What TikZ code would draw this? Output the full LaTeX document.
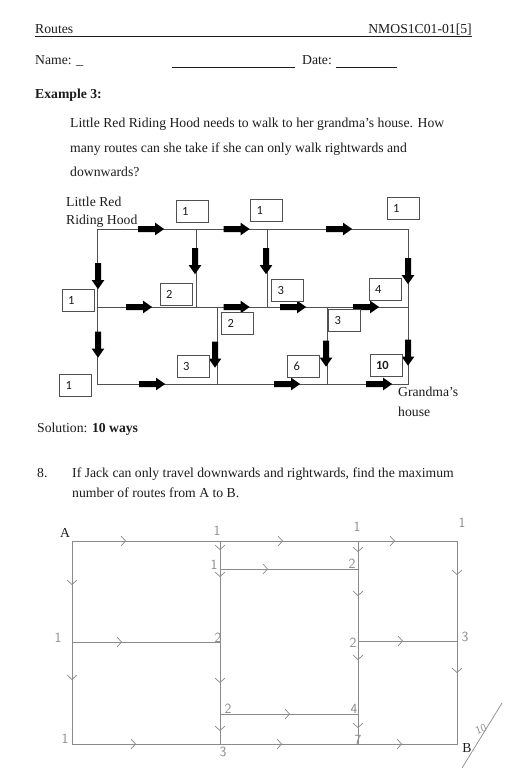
\documentclass[tikz,border=0pt]{standalone}
\usepackage{fontspec}
\setmainfont{Liberation Serif}
\newfontfamily\countfont{Carlito}
\usepackage{xcolor}
\usepackage{tikz}
\usetikzlibrary{arrows.meta,shapes.arrows}
\definecolor{PrintInk}{HTML}{1C1C1C}
\definecolor{RoadGrey}{HTML}{505050}
\definecolor{PencilGrey}{HTML}{8A8A8A}

\begin{document}
\begin{tikzpicture}[x=1pt,y=-1pt]
  \path[use as bounding box] (0,0) rectangle (517,768);
  \tikzset{
    rtText/.style={
      anchor=base west, inner sep=0pt, text=PrintInk,
      font=\fontsize{13.7}{16}\selectfont
    },
    rtHead/.style={
      rtText, font=\fontsize{13.7}{16}\selectfont\bfseries
    },
    rtPara/.style={
      anchor=north west, inner sep=0pt, text=PrintInk, align=left,
      font=\fontsize{13.7}{24.5}\selectfont
    },
    rtRule/.style={draw=PrintInk, line width=.6pt},
    rtRoad/.style={draw=RoadGrey, line width=.7pt},
    rtCount/.style={
      draw=RoadGrey, fill=white, line width=.6pt,
      minimum width=32pt, minimum height=22pt, text width=20pt,
      inner xsep=6pt, inner ysep=0pt, align=left,
      font=\countfont\fontsize{12.5}{12.5}\selectfont, text=PrintInk
    },
    rtGo/.style={
      single arrow, fill=black, draw=none, inner xsep=0pt, inner ysep=2.8pt,
      minimum height=26pt, single arrow head extend=3.4pt,
      single arrow tip angle=70
    },
    rtGoDown/.style={rtGo, rotate=-90},
    hwRoad/.style={draw=PencilGrey, line width=.8pt},
    hwTick/.style={
      -{Straight Barb[length=4.5pt,width=10pt]}, draw=PencilGrey,
      line width=.7pt
    },
    hwNum/.style={
      inner sep=0pt, text=PencilGrey,
      font=\sffamily\fontsize{14}{14}\selectfont
    }
  }

  % header
  \node[rtText] (title) at (35,34) {Routes};
  \node[rtText, anchor=base east] (code) at (472,34) {NMOS1C01-01[5]};
  \draw[rtRule] ([yshift=-2.5pt]title.base west) -- ([yshift=-2.5pt]code.base east);
  \node[rtText] (name) at (35,65) {Name: \_};
  \node[rtText] (date) at (302,65) {Date:};
  \draw[rtRule] (172,67) -- (295,67);
  \draw[rtRule] (336,67) -- (397,67);

  \node[rtHead] (example) at (35,99) {Example 3:};
  \node[rtPara] (story) at (70,118)
    {Little Red Riding Hood needs to walk to her grandma’s house. How\\
     many routes can she take if she can only walk rightwards and\\
     downwards?};

  % example grid
  \coordinate (hood) at (97,229);
  \coordinate (t2) at (196,229);
  \coordinate (t3) at (267,229);
  \coordinate (t4) at (408,229);
  \coordinate (m1) at (97,307);
  \coordinate (m2) at (196,307);
  \coordinate (m3) at (217,307);
  \coordinate (m4) at (267,307);
  \coordinate (m5) at (327,307);
  \coordinate (m6) at (408,307);
  \coordinate (b1) at (97,384);
  \coordinate (b2) at (217,384);
  \coordinate (b3) at (327,384);
  \coordinate (grandma) at (408,384);

  \draw[rtRoad] (hood) -- (t4) -- (grandma) -- (b1) -- cycle;
  \draw[rtRoad] (m1) -- (m6);
  \draw[rtRoad] (t2) -- (m2);
  \draw[rtRoad] (t3) -- (m4);
  \draw[rtRoad] (m3) -- (b2);
  \draw[rtRoad] (m5) -- (b3);

  \node[rtGo] (goT1) at (149,229) {};
  \node[rtGo] (goT2) at (234.5,229) {};
  \node[rtGo] (goT3) at (337,229) {};
  \node[rtGo] (goM1) at (137,307) {};
  \node[rtGo] (goM2) at (234.5,307) {};
  \node[rtGo] (goM3) at (291,307) {};
  \node[rtGo] (goM4) at (364,307) {};
  \node[rtGo] (goB1) at (150,384) {};
  \node[rtGo] (goB2) at (285,384) {};
  \node[rtGo] (goB3) at (377,384) {};
  \node[rtGoDown] (goD1) at (98,274) {};
  \node[rtGoDown] (goD2) at (98,342.5) {};
  \node[rtGoDown] (goD3) at (195,259) {};
  \node[rtGoDown] (goD4) at (266,259) {};
  \node[rtGoDown] (goD5) at (215,352.5) {};
  \node[rtGoDown] (goD6) at (326,351.5) {};
  \node[rtGoDown] (goD7) at (408,269) {};
  \node[rtGoDown] (goD8) at (408,350.5) {};

  \node[rtCount] (cntT2) at (192,211) {1};
  \node[rtCount] (cntT3) at (266.5,210) {1};
  \node[rtCount] (cntT4) at (403,208) {1};
  \node[rtCount] (cntM1) at (78,300.5) {1};
  \node[rtCount] (cntM2) at (176,294) {2};
  \node[rtCount] (cntM3) at (237.5,323.5) {2};
  \node[rtCount] (cntM4) at (287.5,290.5) {3};
  \node[rtCount] (cntM5) at (344.5,320) {3};
  \node[rtCount] (cntM6) at (385,289) {4};
  \node[rtCount] (cntB1) at (75.5,385) {1};
  \node[rtCount] (cntB2) at (193,366.5) {3};
  \node[rtCount] (cntB3) at (303.5,366.5) {6};
  \node[rtCount] (cntEnd) at (386,365) {\textbf{10}};

  \node[rtPara, font=\fontsize{13.7}{18}\selectfont] (hoodLabel) at (66,197)
    {Little Red\\Riding Hood};
  \node[rtPara, font=\fontsize{13.7}{20}\selectfont] (houseLabel) at (398,387)
    {Grandma’s\\house};

  \node[rtText] (solution) at (37,432) {Solution: \textbf{10 ways}};

  % question 8
  \node[rtText] (qnum) at (37,477) {8.};
  \node[rtPara, font=\fontsize{13.7}{20}\selectfont] (question) at (72,468)
    {If Jack can only travel downwards and rightwards, find the maximum\\
     number of routes from A to B.};

  \coordinate (A) at (72,541);
  \coordinate (p2) at (220,541);
  \coordinate (p3) at (358,541);
  \coordinate (p4) at (457,541);
  \coordinate (r2) at (220,569);
  \coordinate (r3) at (358,569);
  \coordinate (q1) at (72,642);
  \coordinate (q2) at (220,642);
  \coordinate (s3) at (358,641);
  \coordinate (s4) at (457,641);
  \coordinate (u2) at (220,714);
  \coordinate (u3) at (358,714);
  \coordinate (w1) at (72,744);
  \coordinate (w2) at (220,744);
  \coordinate (w3) at (358,744);
  \coordinate (B) at (457,744);

  \draw[hwRoad] (A) -- (p4) -- (B) -- (w1) -- cycle;
  \draw[hwRoad] (p2) -- (w2);
  \draw[hwRoad] (p3) -- (w3);
  \draw[hwRoad] (q1) -- (q2);
  \draw[hwRoad] (r2) -- (r3);
  \draw[hwRoad] (u2) -- (u3);
  \draw[hwRoad] (s3) -- (s4);

  \node[rtText, anchor=center] (labA) at (65,533) {A};
  \node[rtText, anchor=center] (labB) at (467,748) {B};

  % pencil ticks
  \draw[hwTick] (124,541) -- (126,541);
  \draw[hwTick] (281,541) -- (283,541);
  \draw[hwTick] (393,541) -- (395,541);
  \draw[hwTick] (266,569) -- (268,569);
  \draw[hwTick] (120,642) -- (122,642);
  \draw[hwTick] (288,714) -- (290,714);
  \draw[hwTick] (401,641) -- (403,641);
  \draw[hwTick] (134,744) -- (136,744);
  \draw[hwTick] (280,744) -- (282,744);
  \draw[hwTick] (400,744) -- (402,744);
  \draw[hwTick] (72,583) -- (72,585);
  \draw[hwTick] (72,678) -- (72,680);
  \draw[hwTick] (220,548) -- (220,550);
  \draw[hwTick] (220,575) -- (220,577);
  \draw[hwTick] (220,681) -- (220,683);
  \draw[hwTick] (220,729) -- (220,731);
  \draw[hwTick] (358,550) -- (358,552);
  \draw[hwTick] (358,594) -- (358,596);
  \draw[hwTick] (358,658) -- (358,660);
  \draw[hwTick] (358,726) -- (358,728);
  \draw[hwTick] (457,573) -- (457,575);
  \draw[hwTick] (457,671) -- (457,673);

  % pencil counts
  \node[hwNum] (hw1) at (217,531) {1};
  \node[hwNum] (hw2) at (214,565) {1};
  \node[hwNum] (hw3) at (58,638) {1};
  \node[hwNum] (hw4) at (65,739) {1};
  \node[hwNum] (hw5) at (218,638) {2};
  \node[hwNum] (hw6) at (228,709) {2};
  \node[hwNum] (hw7) at (223,752) {3};
  \node[hwNum] (hw8) at (357,527) {1};
  \node[hwNum] (hw9) at (352,564) {2};
  \node[hwNum] (hw10) at (462,523) {1};
  \node[hwNum] (hw11) at (353,643) {2};
  \node[hwNum] (hw12) at (465,637) {3};
  \node[hwNum] (hw13) at (354,709) {4};
  \node[hwNum] (hw14) at (358,740) {7};
  \node[hwNum, rotate=20, font=\sffamily\fontsize{11}{11}\selectfont] (hwTotal)
    at (481,729) {10};
  \draw[draw=PencilGrey, line width=.7pt] (502,703) -- (462,768);
\end{tikzpicture}
\end{document}
